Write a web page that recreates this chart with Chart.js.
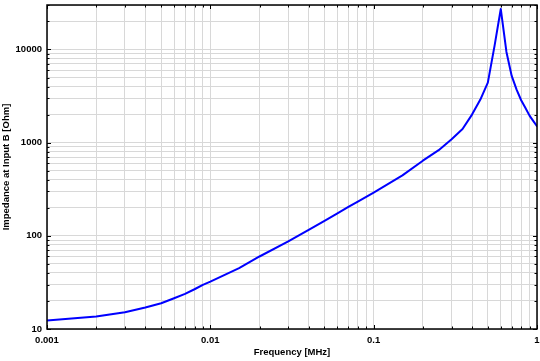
<!DOCTYPE html>
<html>
<head>
<meta charset="utf-8">
<script src="https://cdn.jsdelivr.net/npm/chart.js@4.4.1/dist/chart.umd.min.js"></script>
<style>
html,body{margin:0;padding:0;background:#fff;}
#wrap{width:540px;height:361px;position:relative;}
</style>
</head>
<body>
<div id="wrap"><canvas id="c" width="540" height="361"></canvas></div>
<script>
// Frequency in MHz
const frequencies = [0.001,0.002,0.003,0.004,0.005,0.006,0.007,0.008,0.009,
  0.01,0.015,0.02,0.03,0.04,0.05,0.06,0.07,0.08,0.09,
  0.1,0.15,0.2,0.25,0.3,0.35,0.4,0.45,0.5,0.55,0.6,0.65,0.7,0.75,0.8,0.85,0.9,0.95,1.0];
// Impedance at Input B in Ohm
const impedance = [12.3,13.6,15.1,17.0,18.9,21.4,23.8,26.7,29.8,
  32.3,45,60,87,116,145,174,204,233,262,
  291,445,640,830,1090,1400,2000,2900,4400,11000,27200,9400,5200,3700,2850,2350,1950,1700,1500];
const xTickLabels = [0.001,0.01,0.1,1];
const yTickLabels = [10,100,1000,10000];
const xRange = [0.001, 1];
const yRange = [10, 30000];

function logTicks(min, max) {
  const out = [];
  for (let e = Math.floor(Math.log10(min)); e <= Math.ceil(Math.log10(max)); e++) {
    for (let m = 1; m <= 9; m++) {
      const v = +(m * Math.pow(10, e)).toPrecision(6);
      if (v >= min * 0.9999 && v <= max * 1.0001) out.push({value: v});
    }
  }
  return out;
}
function isLabel(list, v) { return list.some(t => Math.abs(t - v) / t < 1e-6); }

const frame = {
  id: 'frame',
  afterDraw(chart) {
    const {ctx, chartArea: a, scales} = chart;
    ctx.save();
    ctx.strokeStyle = '#000';
    ctx.lineWidth = 1;
    ctx.beginPath();
    scales.x.ticks.forEach(t => {
      const p = Math.round(scales.x.getPixelForValue(t.value)) + 0.5;
      const L = isLabel(xTickLabels, t.value) ? 4 : 2.5;
      ctx.moveTo(p, a.bottom); ctx.lineTo(p, a.bottom - L);
      ctx.moveTo(p, a.top); ctx.lineTo(p, a.top + L);
    });
    scales.y.ticks.forEach(t => {
      const p = Math.round(scales.y.getPixelForValue(t.value)) + 0.5;
      const L = isLabel(yTickLabels, t.value) ? 4 : 2.5;
      ctx.moveTo(a.left, p); ctx.lineTo(a.left + L, p);
      ctx.moveTo(a.right, p); ctx.lineTo(a.right - L, p);
    });
    ctx.stroke();
    ctx.lineWidth = 1.5;
    ctx.strokeRect(a.left, a.top, a.right - a.left, a.bottom - a.top);
    ctx.restore();
  }
};

const font = {family: 'Liberation Sans, Arial, sans-serif', size: 9.5, weight: 'bold'};

new Chart(document.getElementById('c'), {
  type: 'line',
  data: {
    datasets: [{
      data: frequencies.map((f, i) => ({x: f, y: impedance[i]})),
      borderColor: '#0000ff',
      borderWidth: 2,
      borderJoinStyle: 'round',
      borderCapStyle: 'round',
      pointRadius: 0,
      tension: 0,
      fill: false
    }]
  },
  options: {
    responsive: false,
    animation: false,
    devicePixelRatio: 1,
    layout: {padding: {top: 5, right: 3, bottom: 0, left: 0}},
    plugins: {legend: {display: false}, tooltip: {enabled: false}},
    scales: {
      x: {
        type: 'logarithmic',
        min: xRange[0], max: xRange[1],
        afterBuildTicks: s => { s.ticks = logTicks(xRange[0], xRange[1]); },
        afterFit: s => { s.height = 32; s.paddingLeft = 0; s.paddingRight = 0; s.paddingTop = 0; s.paddingBottom = 0; },
        border: {display: false},
        grid: {color: '#d8d8d8', lineWidth: 1, drawTicks: false},
        ticks: {
          autoSkip: false, maxRotation: 0, padding: 6, color: '#000', font,
          callback: v => isLabel(xTickLabels, v) ? String(v) : ''
        },
        title: {display: true, text: 'Frequency [MHz]', color: '#000', font, padding: {top: 0, bottom: 2.5}}
      },
      y: {
        type: 'logarithmic',
        min: yRange[0], max: yRange[1],
        afterBuildTicks: s => { s.ticks = logTicks(yRange[0], yRange[1]); },
        afterFit: s => { s.width = 47; s.paddingLeft = 0; s.paddingRight = 0; s.paddingTop = 0; s.paddingBottom = 0; },
        border: {display: false},
        grid: {color: '#d8d8d8', lineWidth: 1, drawTicks: false},
        ticks: {
          autoSkip: false, padding: 5, color: '#000', font,
          callback: v => isLabel(yTickLabels, v) ? String(v) : ''
        },
        title: {display: true, text: 'Impedance at Input B [Ohm]', color: '#000', font, padding: {top: 0.5, bottom: 0}}
      }
    }
  },
  plugins: [frame]
});
</script>
</body>
</html>
